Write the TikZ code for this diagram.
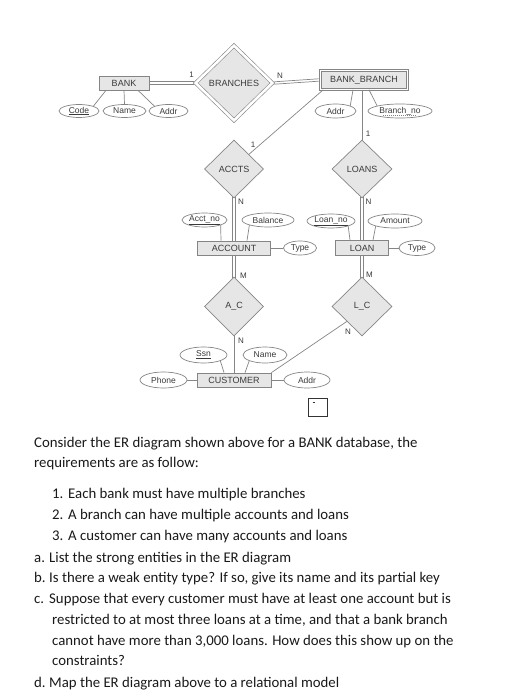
\documentclass[tikz,border=0pt]{standalone}
\usepackage{fontspec}
\setmainfont{Carlito}
\newfontfamily\diagfont{Liberation Sans}
\usetikzlibrary{shapes.geometric,calc}
\definecolor{lg}{HTML}{858585}
\definecolor{bf}{HTML}{E6E6E6}
\definecolor{tg}{HTML}{3A3A3A}
\begin{document}
\begin{tikzpicture}[x=1pt,y=-1pt,
  entity/.style={draw=lg, fill=bf, line width=0.7pt, inner sep=0pt, text=tg, font=\diagfont\fontsize{9}{10}\selectfont},
  attr/.style={ellipse, draw=lg, fill=white, line width=0.7pt, inner sep=0pt, text=tg, font=\diagfont\fontsize{8.5}{10}\selectfont},
  rel/.style={diamond, draw=lg, fill=bf, line width=0.7pt, inner sep=0pt, text=tg, font=\diagfont\fontsize{9}{10}\selectfont},
  conn/.style={draw=lg, line width=0.7pt},
  card/.style={inner sep=0pt, text=tg, font=\diagfont\fontsize{8}{9}\selectfont},
  txt/.style={anchor=base west, inner sep=0pt, text=black!90, font=\fontsize{14.8}{18}\selectfont}
]
\useasboundingbox (0,0) rectangle (528,700);

% ---------- diagram nodes ----------
\node[entity, minimum width=50, minimum height=14] (bank) at (124,83) {BANK};
\node[attr, minimum width=40, minimum height=13] (code) at (79,111) {\underline{Code}};
\node[attr, minimum width=43, minimum height=13] (bname) at (124.5,111) {Name};
\node[attr, minimum width=39, minimum height=13] (baddr) at (168.5,111) {Addr};

\node[rel, double=white, double distance=2.6pt, line width=0.6pt, minimum width=77, minimum height=75] (branches) at (234,83) {BRANCHES};

\node[entity, double=white, double distance=1.8pt, line width=0.6pt, minimum width=87, minimum height=19] (bb) at (364,80) {BANK\_BRANCH};
\node[attr, minimum width=41, minimum height=14] (bbaddr) at (335.5,111) {Addr};
\node[attr, minimum width=64, minimum height=14] (bno) at (400,111) {Branch\_no};

\node[rel, minimum width=59, minimum height=58] (accts) at (234,169) {ACCTS};
\node[rel, minimum width=60, minimum height=58] (loans) at (362,169) {LOANS};

\node[attr, minimum width=45, minimum height=14] (acctno) at (204.5,220) {\underline{Acct\_no}};
\node[attr, minimum width=52, minimum height=14] (balance) at (268,220) {Balance};
\node[entity, minimum width=73, minimum height=14] (account) at (234,248) {ACCOUNT};
\node[attr, minimum width=33, minimum height=14] (atype) at (300,248) {Type};

\node[attr, minimum width=48, minimum height=14] (loanno) at (331,221) {\underline{Loan\_no}};
\node[attr, minimum width=54, minimum height=14] (amount) at (395,221) {Amount};
\node[entity, minimum width=53, minimum height=15] (loan) at (362,248) {LOAN};
\node[attr, minimum width=36, minimum height=15] (ltype) at (417,248) {Type};

\node[rel, minimum width=59, minimum height=59] (ac) at (234,306.5) {A\_C};
\node[rel, minimum width=60, minimum height=59] (lc) at (362,306.5) {L\_C};

\node[attr, minimum width=47, minimum height=16] (ssn) at (203.5,355) {\underline{Ssn}};
\node[attr, minimum width=44, minimum height=16] (cname) at (265,355) {Name};
\node[entity, minimum width=74, minimum height=14] (customer) at (234,380) {CUSTOMER};
\node[attr, minimum width=47, minimum height=16] (phone) at (163.5,380) {Phone};
\node[attr, minimum width=46, minimum height=16] (caddr) at (307,380) {Addr};

\node[draw=black!80, line width=0.8pt, minimum width=19, minimum height=18, inner sep=0pt] (box) at (317.5,407) {};
\draw[black!80, line width=0.6pt] ($(box.north west)+(5,5)$) -- ++(2,0);

% dashed partial-key underline
\draw[lg, line width=0.4pt, dash pattern=on 1pt off 1pt] ($(bno.center)+(-17,4.5)$) -- ++(34,0);

% ---------- connectors ----------
\draw[conn] ([xshift=-18]bank.south) -- (code.north east);
\draw[conn] (bank.south) -- (bname.north);
\draw[conn] ([xshift=14]bank.south) -- (baddr.north west);
% total participation: pairs of parallel lines
\draw[conn] ([yshift=1.2]bank.east) -- ([xshift=-1.5,yshift=1.2]branches.west);
\draw[conn] ([yshift=-1.2]bank.east) -- ([xshift=-1.5,yshift=-1.2]branches.west);
\draw[conn] ([xshift=1.5,yshift=1.2]branches.east) -- ([xshift=-1.5,yshift=1.2]bb.west);
\draw[conn] ([xshift=1.5,yshift=-1.2]branches.east) -- ([xshift=-1.5,yshift=-1.2]bb.west);

\draw[conn] ([xshift=-11]bb.south) -- (bbaddr.north east);
\draw[conn] ([xshift=5]bb.south) -- (bno.north west);
\draw[conn] ([xshift=3]bb.south west) -- (accts.north east);
\draw[conn] ([yshift=-1.5]bb.south -| loans.north) -- (loans.north);

\draw[conn] ([xshift=-1.2,yshift=1.2]accts.south) -- ([xshift=-1.2]account.north);
\draw[conn] ([xshift=1.2,yshift=1.2]accts.south) -- ([xshift=1.2]account.north);
\draw[conn] ([xshift=-13]account.north) -- (acctno.south east);
\draw[conn] ([xshift=13]account.north) -- (balance.south west);
\draw[conn] (account.east) -- (atype.west);
\draw[conn] ([xshift=-1.2]account.south) -- ([xshift=-1.2,yshift=-1.2]ac.north);
\draw[conn] ([xshift=1.2]account.south) -- ([xshift=1.2,yshift=-1.2]ac.north);

\draw[conn] ([xshift=-1.2,yshift=1.2]loans.south) -- ([xshift=-1.2]loan.north);
\draw[conn] ([xshift=1.2,yshift=1.2]loans.south) -- ([xshift=1.2]loan.north);
\draw[conn] ([xshift=-12]loan.north) -- (loanno.south east);
\draw[conn] ([xshift=11]loan.north) -- (amount.south west);
\draw[conn] (loan.east) -- (ltype.west);
\draw[conn] ([xshift=-1.2]loan.south) -- ([xshift=-1.2,yshift=-1.2]lc.north);
\draw[conn] ([xshift=1.2]loan.south) -- ([xshift=1.2,yshift=-1.2]lc.north);

\draw[conn] (ac.south) -- (customer.north);
\draw[conn] ([xshift=-10]customer.north) -- (ssn.south east);
\draw[conn] ([xshift=11]customer.north) -- (cname.south west);
\draw[conn] (phone.east) -- (customer.west);
\draw[conn] (customer.east) -- (caddr.west);
\draw[conn] (customer.north east) -- (lc.south west);

% ---------- cardinalities ----------
\node[card] (c1) at (191.5,75) {1};
\node[card] (c2) at (280,76) {N};
\node[card] (c3) at (253,145) {1};
\node[card] (c4) at (241,202) {N};
\node[card] (c5) at (368,134) {1};
\node[card] (c6) at (368.5,202) {N};
\node[card] (c7) at (243.5,276) {M};
\node[card] (c8) at (241,341) {N};
\node[card] (c9) at (369.5,275) {M};
\node[card] (c10) at (348,332) {N};

% ---------- text ----------
\node[txt] (t1) at (34,447) {Consider the ER diagram shown above for a BANK database, the};
\node[txt] (t2) at (34,467.5) {requirements are as follow:};
\node[txt] (n1) at (52,498.5) {1.};
\node[txt] (n1t) at (68,498.5) {Each bank must have multiple branches};
\node[txt] (n2) at (52,519.5) {2.};
\node[txt] (n2t) at (68,519.5) {A branch can have multiple accounts and loans};
\node[txt] (n3) at (52,540.5) {3.};
\node[txt] (n3t) at (68,540.5) {A customer can have many accounts and loans};
\node[txt] (qa) at (34,562) {a.};
\node[txt] (qat) at (49,562) {List the strong entities in the ER diagram};
\node[txt] (qb) at (34,582.5) {b.};
\node[txt] (qbt) at (49,582.5) {Is there a weak entity type? If so, give its name and its partial key};
\node[txt] (qc) at (34,603.5) {c.};
\node[txt] (qct) at (49,603.5) {Suppose that every customer must have at least one account but is};
\node[txt] (qc2) at (52,624.5) {restricted to at most three loans at a time, and that a bank branch};
\node[txt] (qc3) at (52,645) {cannot have more than 3,000 loans. How does this show up on the};
\node[txt] (qc4) at (52,665.5) {constraints?};
\node[txt] (qd) at (34,687) {d.};
\node[txt] (qdt) at (49,687) {Map the ER diagram above to a relational model};
\end{tikzpicture}
\end{document}
